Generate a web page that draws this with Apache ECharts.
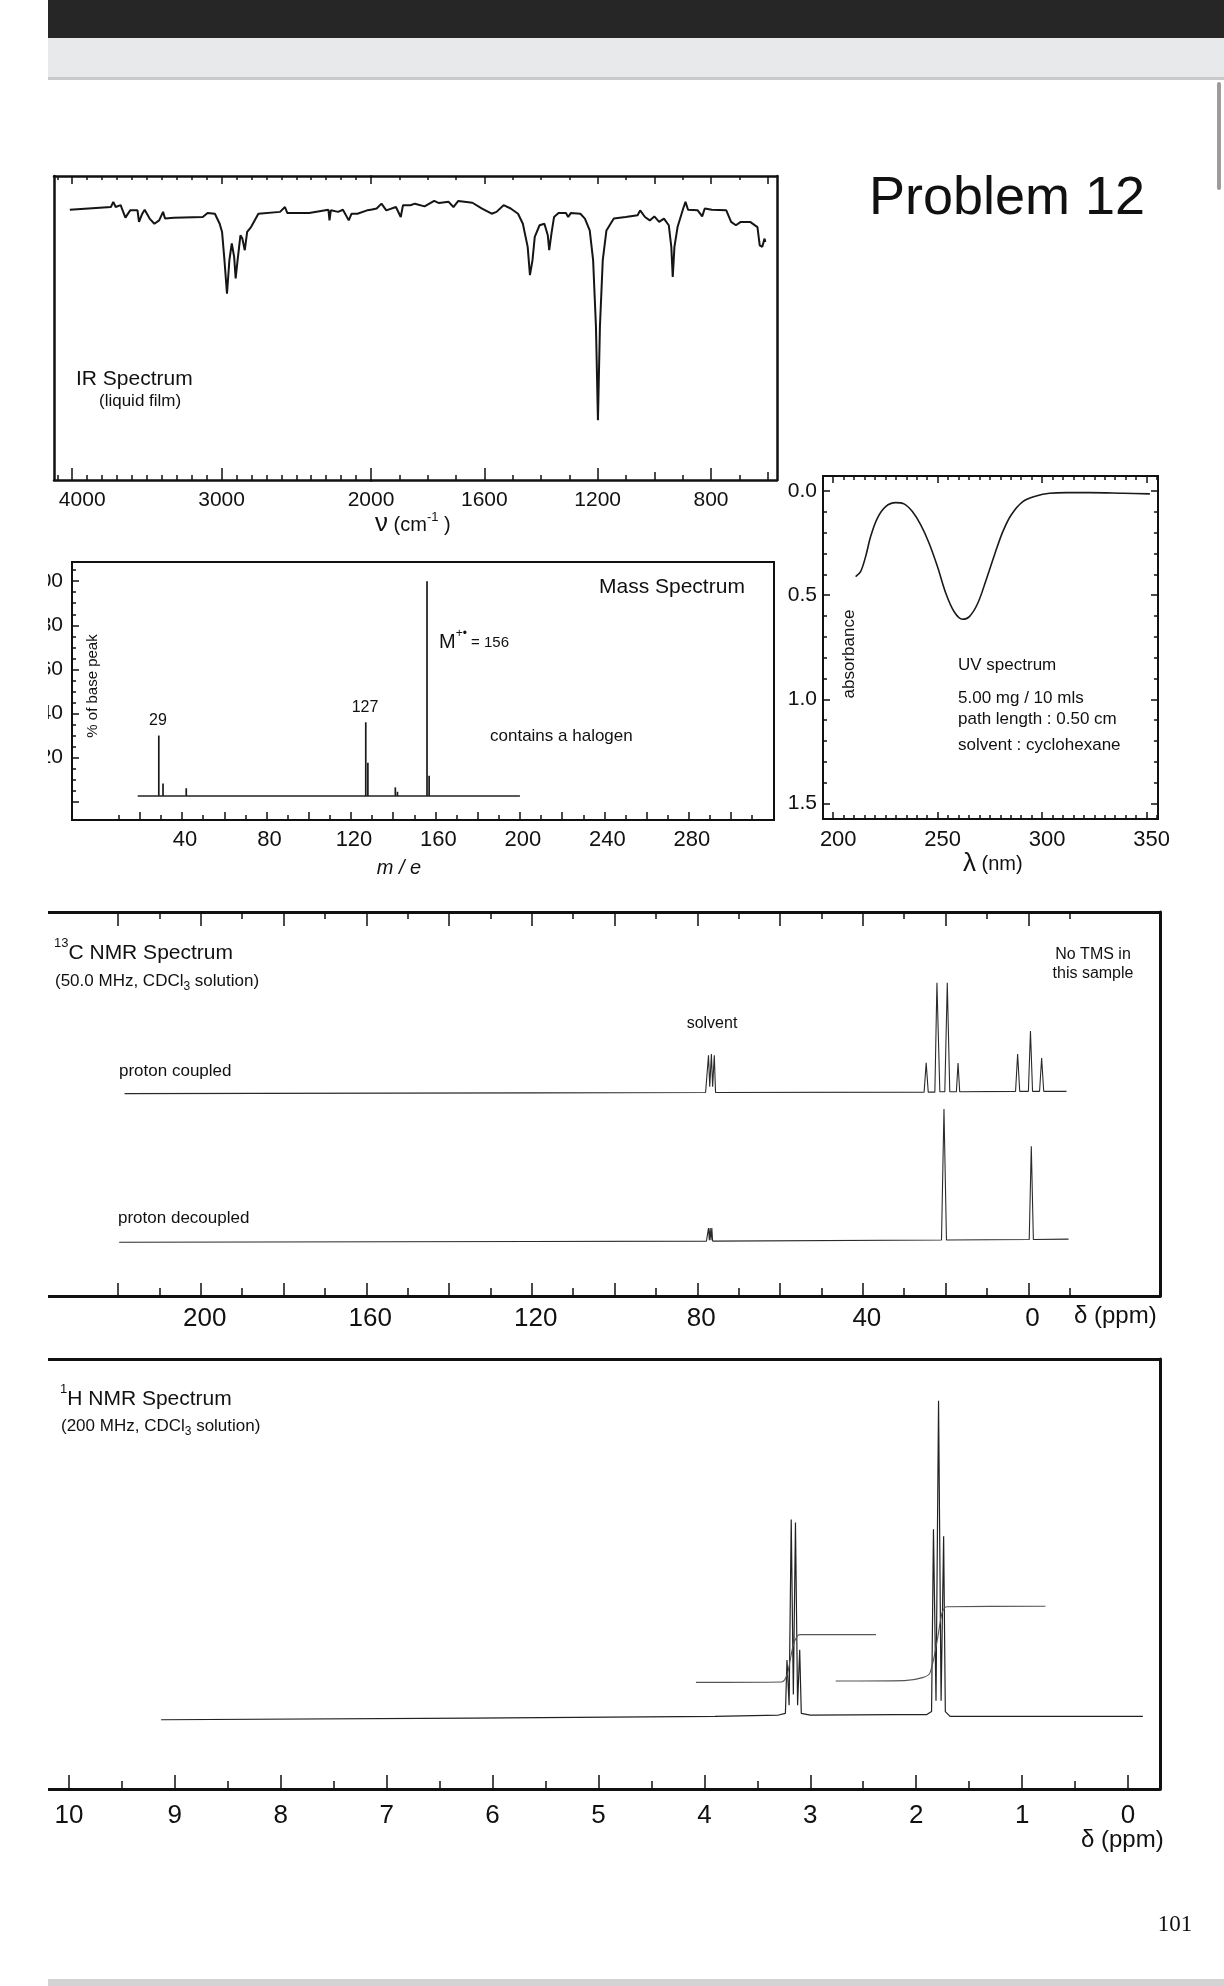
<!DOCTYPE html>
<html>
<head>
<meta charset="utf-8">
<script src="https://cdn.jsdelivr.net/npm/echarts@6.0.0/dist/echarts.min.js"></script>
<style>
html,body{margin:0;padding:0;background:#fff;}
#c{width:1224px;height:1986px;}
</style>
</head>
<body>
<div id="c"></div>
<script>
// ---------------- DATA ----------------
// IR spectrum (liquid film): wavenumber (cm-1) and % transmittance
const irWavenumber = [4016,3741,3725,3709,3676,3644,3612,3563,3553,3531,3515,3482,3450,3418,3392,3379,3320,3126,3094,3045,3013,2997,2981,2964,2948,2932,2916,2906,2893,2874,2861,2845,2829,2803,2754,2609,2576,2560,2414,2285,2278,2269,2220,2188,2149,2130,2091,2026,2000,1980,1963,1946,1912,1895,1887,1861,1845,1811,1777,1760,1726,1709,1692,1642,1608,1574,1557,1532,1507,1481,1464,1447,1439,1430,1422,1405,1388,1376,1371,1363,1354,1338,1312,1304,1295,1261,1245,1228,1216,1206,1199,1192,1182,1169,1143,1101,1059,1050,1033,1016,1000,983,966,949,940,935,929,918,898,890,881,847,831,822,797,746,729,712,695,662,636,628,619,611,608];
const irTransmittance = [88.9,89.8,91.5,89.8,90.4,86.3,88.7,88.7,84.9,87.6,88.9,86.0,84.3,85.4,88.2,86.0,86.3,86.5,87.8,87.6,84.3,81.6,72.3,61.3,72.3,77.8,73.4,66.3,72.3,80.5,79.4,75.6,81.6,83.2,87.6,88.2,89.8,87.8,87.8,88.9,85.4,88.7,88.2,88.9,85.4,87.6,87.6,88.7,88.9,89.3,90.9,88.7,89.8,86.5,90.4,90.4,90.9,90.0,91.8,91.1,91.5,89.8,91.8,91.2,89.3,87.6,88.2,90.4,89.3,87.6,84.3,76.7,67.4,72.3,80.0,83.8,84.3,80.5,75.6,81.1,86.5,87.8,87.8,86.5,87.8,87.6,86.0,82.1,72.3,50.4,19.7,50.4,72.3,82.1,86.0,86.5,87.1,88.7,86.5,85.4,86.7,84.9,86.0,83.8,76.7,66.8,76.7,83.2,89.3,91.5,88.9,88.7,86.7,89.3,88.9,88.7,84.9,83.8,84.9,84.9,83.2,77.2,76.7,79.4,78.3];
const irTickLabelsLeft = [4000, 3000, 2000];
const irTickLabelsRight = [1600, 1200, 800];
const irMediumTicksRight = [1000, 600];

// Mass spectrum: m/e and % of base peak
const msMass = [29, 31, 42, 127, 128, 141, 142, 156, 157];
const msIntensity = [30, 8.2, 6.1, 36, 17.7, 6.5, 4.5, 100, 11.8];
const msBaseline = 2.6;
const msBaseRange = [19, 200];
const msXLabels = [40, 80, 120, 160, 200, 240, 280];
const msYLabels = [20, 40, 60, 80, 100];

// UV spectrum: wavelength (nm) and absorbance
const uvWavelength = [210.7,213.1,215.5,217.9,221.1,225.1,229.9,233.9,237.9,241.9,245.9,249.9,253.9,257.9,261.9,265.2,269.2,273.2,277.2,281.2,285.2,290.8,297.2,303.6,311.6,322.8,338.8,351.6];
const uvAbsorbance = [0.411,0.387,0.315,0.219,0.131,0.075,0.056,0.062,0.099,0.163,0.251,0.363,0.491,0.580,0.616,0.603,0.539,0.427,0.307,0.195,0.115,0.051,0.024,0.011,0.008,0.008,0.011,0.014];
const uvXLabels = [200, 250, 300, 350];
const uvYLabels = [0, 0.5, 1.0, 1.5];

// 13C NMR (traces are offset on the page; intensity in page units)
const c13CoupledPpm = [218.4,120,78.0,77.6,77.3,77.0,76.6,76.3,75.9,75.6,25.2,24.7,24.2,22.6,22.1,21.4,20.2,19.6,19.0,17.4,17.0,16.6,3.1,2.6,2.1,0.0,-0.5,-1.0,-2.7,-3.2,-3.7,-9.2];
const c13CoupledInt = [52.7,52.9,53.0,53.0,62.7,54.5,63.0,54.5,62.7,53.0,53.1,60.7,53.1,53.1,81.6,53.2,53.2,81.6,53.2,53.2,60.7,53.2,53.3,63.0,53.3,53.3,69.0,53.3,53.3,62.0,53.3,53.3];
const c13DecoupledPpm = [219.7,120,77.8,77.5,77.3,77.1,76.9,76.7,76.5,76.3,21.0,20.4,19.8,-0.2,-0.7,-1.2,-9.7];
const c13DecoupledInt = [14.0,14.2,14.3,14.3,17.7,14.5,17.7,14.5,17.7,14.3,14.6,48.7,14.6,14.7,39.0,14.7,14.8];
const c13Labels = [200, 160, 120, 80, 40, 0];

// 1H NMR trace and integral curves
const h1Ppm = [9.13,6.2,3.9,3.30,3.235,3.22,3.20,3.18,3.16,3.14,3.12,3.10,3.085,3.0,2.2,1.90,1.855,1.837,1.813,1.789,1.765,1.741,1.725,1.68,1.0,-0.14];
const h1Int = [16.1,16.5,16.9,17.2,17.6,30.0,19.5,62.7,22.0,62.0,19.5,32.4,17.6,17.2,17.3,17.3,18.0,60.4,20.5,90.3,20.5,58.8,18.0,16.9,16.9,16.9];
const h1Int1Ppm = [4.08,3.27,3.22,3.19,3.16,3.13,3.10,2.38];
const h1Int1Val = [24.8,24.9,26.5,30.0,33.5,35.3,35.9,35.9];
const h1Int2Ppm = [2.76,2.11,1.94,1.87,1.80,1.755,1.71,0.78];
const h1Int2Val = [25.1,25.2,25.9,27.0,34.8,41.0,42.4,42.5];
const h1Labels = [10, 9, 8, 7, 6, 5, 4, 3, 2, 1, 0];

// ---------------- helpers ----------------
const INK = '#111';
const FONT = '"Liberation Sans", Arial, Helvetica, sans-serif';
function range(a, b, s) { const r = []; for (let i = 0; a + i * s <= b + 1e-9; i++) r.push(+(a + i * s).toFixed(4)); return r; }
function pairs(xs, ys) { return xs.map((x, i) => [x, ys[i]]); }

function axis(o) {
  let label = {show: false};
  if (o.labels) {
    const fmt = o.fmt || (v => String(v));
    label = {show: true, inside: false, customValues: o.labels, fontSize: o.fs, fontFamily: FONT, color: INK, margin: o.m};
    if (o.pad || o.padFirst) {
      label.formatter = v => ((o.padFirst && v === o.padFirst[0]) ? '{f|' : '{p|') + fmt(v) + '}';
      label.rich = {
        p: {fontSize: o.fs, fontFamily: FONT, color: INK, padding: [0, 0, 0, o.pad || 0]},
        f: {fontSize: o.fs, fontFamily: FONT, color: INK, padding: [0, 0, 0, o.padFirst ? o.padFirst[1] : 0]}
      };
    } else {
      label.formatter = fmt;
    }
  }
  return {
    type: 'value', gridIndex: o.g, position: o.p, min: o.min, max: o.max, inverse: !!o.inv,
    splitLine: {show: false}, splitArea: {show: false}, axisPointer: {show: false},
    axisLine: {show: !!o.line, onZero: false, lineStyle: {color: INK, width: o.lw || 2}},
    axisTick: o.ticks ? {show: true, inside: true, length: o.len, customValues: o.ticks, lineStyle: {color: INK, width: o.tw || 1.5}} : {show: false},
    axisLabel: label,
    minorTick: {show: false}, silent: true
  };
}

const mctx = document.createElement('canvas').getContext('2d');
function fontStr(size, style, family) { return (style || 'normal') + ' normal ' + size + 'px ' + (family || FONT); }
function txt(x, y, text, size, opt) {
  opt = opt || {};
  const al = opt.align || 'left';
  return {type: 'text', x: x, y: y, rotation: opt.rot || 0, z: 50, silent: true,
    style: {text: text, font: fontStr(size, opt.style, opt.family), fill: INK,
      align: al, textAlign: al, verticalAlign: 'middle', textVerticalAlign: 'middle'}};
}
function seq(x, y, parts) {
  const out = []; let cx = x;
  parts.forEach(p => {
    out.push(txt(cx, y + (p[2] || 0), p[0], p[1], {style: p[3]}));
    mctx.font = fontStr(p[1], p[3]);
    cx += mctx.measureText(p[0]).width;
  });
  return out;
}

// ---------------- layout ----------------
const irLeftData = pairs(irWavenumber, irTransmittance).filter(d => d[0] >= 2000);
const irRightData = pairs(irWavenumber, irTransmittance).filter(d => d[0] <= 2000);

const grids = [
  {left: 54, top: 176, width: 317, height: 304},   // 0 IR left (4122-2000)
  {left: 371, top: 176, width: 406, height: 304},  // 1 IR right (2000-567)
  {left: 72, top: 562, width: 702, height: 258, show: true, borderColor: INK, borderWidth: 2}, // 2 MS
  {left: 823, top: 476, width: 335, height: 343, show: true, borderColor: INK, borderWidth: 2}, // 3 UV
  {left: 0, top: 912, width: 1160, height: 384},   // 4 13C
  {left: 0, top: 1359, width: 1160, height: 430}   // 5 1H
].map(g => Object.assign({containLabel: false, outerBoundsMode: 'none', backgroundColor: 'transparent', borderColor: 'transparent'}, g));

const IRL = {min: 2000, max: 4122, inv: true};
const IRR = {min: 567, max: 2000, inv: true};
const MSX = {min: -12.1, max: 320.3};
const UVX = {min: 195.1, max: 355.5};
const C13 = {min: -31.8, max: 248.5, inv: true};
const H1 = {min: -0.302, max: 10.651, inv: true};

const xAxes = [
  axis(Object.assign({g: 0, p: 'bottom', line: true, lw: 2.5, ticks: irTickLabelsLeft, len: 12, labels: irTickLabelsLeft, fs: 21, m: 10, padFirst: [4000, 20]}, IRL)), //0
  axis(Object.assign({g: 0, p: 'bottom', ticks: range(2100, 4100, 100), len: 5}, IRL)), //1
  axis(Object.assign({g: 0, p: 'top', line: true, lw: 2.5, ticks: irTickLabelsLeft, len: 8}, IRL)), //2
  axis(Object.assign({g: 0, p: 'top', ticks: range(2100, 4100, 100), len: 4}, IRL)), //3
  axis(Object.assign({g: 1, p: 'bottom', line: true, lw: 2.5, ticks: irTickLabelsRight, len: 12, labels: irTickLabelsRight, fs: 21, m: 10}, IRR)), //4
  axis(Object.assign({g: 1, p: 'bottom', ticks: irMediumTicksRight, len: 8}, IRR)), //5
  axis(Object.assign({g: 1, p: 'bottom', ticks: range(700, 1900, 100), len: 5}, IRR)), //6
  axis(Object.assign({g: 1, p: 'top', line: true, lw: 2.5, ticks: irTickLabelsRight.concat(irMediumTicksRight), len: 8}, IRR)), //7
  axis(Object.assign({g: 1, p: 'top', ticks: range(700, 1900, 100), len: 4}, IRR)), //8
  axis(Object.assign({g: 2, p: 'bottom', ticks: range(20, 300, 20), len: 8, labels: msXLabels, fs: 22, m: 9, pad: 6}, MSX)), //9
  axis(Object.assign({g: 2, p: 'bottom', ticks: range(10, 310, 20), len: 5}, MSX)), //10
  axis(Object.assign({g: 3, p: 'bottom', ticks: uvXLabels, len: 7, labels: uvXLabels, fs: 22, m: 10, pad: 10}, UVX)), //11
  axis(Object.assign({g: 3, p: 'bottom', ticks: range(200, 355, 5), len: 4}, UVX)), //12
  axis(Object.assign({g: 3, p: 'top', ticks: uvXLabels, len: 7}, UVX)), //13
  axis(Object.assign({g: 3, p: 'top', ticks: range(200, 355, 5), len: 4}, UVX)), //14
  axis(Object.assign({g: 4, p: 'bottom', line: true, lw: 3, ticks: range(0, 220, 20), len: 13, labels: c13Labels, fs: 26, m: 10, pad: 8}, C13)), //15
  axis(Object.assign({g: 4, p: 'bottom', ticks: range(-10, 210, 20), len: 8}, C13)), //16
  axis(Object.assign({g: 4, p: 'top', line: true, lw: 3, ticks: range(0, 220, 20), len: 14}, C13)), //17
  axis(Object.assign({g: 4, p: 'top', ticks: range(-10, 210, 20), len: 7}, C13)), //18
  axis(Object.assign({g: 5, p: 'bottom', line: true, lw: 3, ticks: h1Labels, len: 14, labels: h1Labels, fs: 26, m: 14}, H1)), //19
  axis(Object.assign({g: 5, p: 'bottom', ticks: range(0.5, 9.5, 1), len: 8}, H1)), //20
  axis(Object.assign({g: 5, p: 'top', line: true, lw: 3}, H1)) //21
];

const yAxes = [
  axis({g: 0, p: 'left', min: 0, max: 100, line: true, lw: 2.5}), //0
  axis({g: 1, p: 'right', min: 0, max: 100, line: true, lw: 2.5}), //1
  axis({g: 2, p: 'left', min: -8.3, max: 108.7, ticks: range(0, 100, 20), len: 7, labels: msYLabels, fs: 21, m: 9}), //2
  axis({g: 2, p: 'left', min: -8.3, max: 108.7, ticks: range(5, 105, 5), len: 4}), //3
  axis({g: 3, p: 'left', min: -0.072, max: 1.575, inv: true, ticks: uvYLabels, len: 7, labels: uvYLabels, fs: 21, m: 6, fmt: v => Number(v).toFixed(1)}), //4
  axis({g: 3, p: 'left', min: -0.072, max: 1.575, inv: true, ticks: range(0, 1.5, 0.1), len: 4}), //5
  axis({g: 3, p: 'right', min: -0.072, max: 1.575, inv: true, ticks: uvYLabels, len: 7}), //6
  axis({g: 3, p: 'right', min: -0.072, max: 1.575, inv: true, ticks: range(0, 1.5, 0.1), len: 4}), //7
  axis({g: 4, p: 'right', min: 0, max: 100, line: true, lw: 3}), //8
  axis({g: 5, p: 'right', min: 0, max: 100, line: true, lw: 3}) //9
];

function lineSeries(xi, yi, data, color, width, extra) {
  return Object.assign({type: 'line', xAxisIndex: xi, yAxisIndex: yi, data: data, symbol: 'none', silent: true,
    animation: false, lineStyle: {color: color, width: width}, z: 3}, extra || {});
}

const series = [
  lineSeries(0, 0, irLeftData, '#151515', 2),
  lineSeries(4, 1, irRightData, '#151515', 2),
  lineSeries(9, 2, [[msBaseRange[0], msBaseline], [msBaseRange[1], msBaseline]], '#222', 1.6),
  {type: 'custom', xAxisIndex: 9, yAxisIndex: 2, silent: true, animation: false, z: 3,
    data: pairs(msMass, msIntensity), encode: {x: 0, y: 1},
    renderItem: function (params, api) {
      const a = api.coord([api.value(0), msBaseline]);
      const b = api.coord([api.value(0), api.value(1)]);
      return {type: 'line', shape: {x1: a[0], y1: a[1], x2: b[0], y2: b[1]}, style: {stroke: '#1a1a1a', lineWidth: 1.7}};
    }},
  lineSeries(11, 4, pairs(uvWavelength, uvAbsorbance), '#1a1a1a', 1.6, {smooth: 0.35}),
  lineSeries(15, 8, pairs(c13CoupledPpm, c13CoupledInt), '#2a2a2a', 1.1),
  lineSeries(15, 8, pairs(c13DecoupledPpm, c13DecoupledInt), '#2a2a2a', 1.1),
  lineSeries(19, 9, pairs(h1Ppm, h1Int), '#222', 1.2),
  lineSeries(19, 9, pairs(h1Int1Ppm, h1Int1Val), '#555', 1.1, {smooth: 0.3}),
  lineSeries(19, 9, pairs(h1Int2Ppm, h1Int2Val), '#555', 1.1, {smooth: 0.3})
];

const chrome = [
  {type: 'rect', z: 100, silent: true, shape: {x: 48, y: 0, width: 1176, height: 38}, style: {fill: '#262626'}},
  {type: 'rect', z: 100, silent: true, shape: {x: 48, y: 38, width: 1176, height: 40}, style: {fill: '#e8e9eb'}},
  {type: 'rect', z: 100, silent: true, shape: {x: 48, y: 77, width: 1176, height: 3}, style: {fill: '#c9c9c9'}},
  {type: 'rect', z: 100, silent: true, shape: {x: 1217, y: 82, width: 4, height: 108, r: 2}, style: {fill: '#9c9c9c'}},
  {type: 'rect', z: 100, silent: true, shape: {x: 48, y: 1979, width: 1176, height: 7}, style: {fill: '#d3d3d3'}},
  {type: 'rect', z: 100, silent: true, shape: {x: 0, y: 0, width: 48, height: 1986}, style: {fill: '#ffffff'}}
];

const texts = [].concat(
  [txt(869, 199, 'Problem 12', 54)],
  [txt(76, 379, 'IR Spectrum', 21), txt(99, 401, '(liquid film)', 17)],
  seq(375, 525, [['ν', 26, -1], [' (cm', 20, 0], ['-1', 13, -8], [' )', 20, 0]]),
  [txt(599, 587, 'Mass Spectrum', 21)],
  seq(439, 642, [['M', 20, 0], ['+•', 12, -8], [' = 156', 15, 1]]),
  [txt(490, 736, 'contains a halogen', 17),
   txt(158, 721, '29', 16, {align: 'center'}),
   txt(365, 708, '127', 16, {align: 'center'}),
   txt(93, 686, '% of base peak', 15, {align: 'center', rot: Math.PI / 2}),
   txt(399, 868, 'm / e', 20, {align: 'center', style: 'italic'})],
  [txt(958, 665, 'UV spectrum', 17), txt(958, 698, '5.00 mg / 10 mls', 17),
   txt(958, 719, 'path length : 0.50 cm', 17), txt(958, 745, 'solvent : cyclohexane', 17),
   txt(849, 654, 'absorbance', 17, {align: 'center', rot: Math.PI / 2})],
  seq(963, 864, [['λ', 26, 0], [' (nm)', 20, 0]]),
  seq(54, 953, [['13', 13, -10], ['C NMR Spectrum', 21, 0]]),
  seq(55, 981, [['(50.0 MHz, CDCl', 17, 0], ['3', 12, 6], [' solution)', 17, 0]]),
  [txt(1093, 955, 'No TMS in', 16, {align: 'center'}), txt(1093, 974, 'this sample', 16, {align: 'center'}),
   txt(712, 1024, 'solvent', 16, {align: 'center'}),
   txt(119, 1071, 'proton coupled', 17), txt(118, 1218, 'proton decoupled', 17)],
  seq(1074, 1316, [['δ', 24, 0], [' (ppm)', 24, 0]]),
  seq(60, 1399, [['1', 13, -10], ['H NMR Spectrum', 21, 0]]),
  seq(61, 1426, [['(200 MHz, CDCl', 17, 0], ['3', 12, 6], [' solution)', 17, 0]]),
  seq(1081, 1840, [['δ', 24, 0], [' (ppm)', 24, 0]]),
  [txt(1175, 1925, '101', 23, {align: 'center', family: '"Liberation Serif", "Times New Roman", serif'})]
);

const chart = echarts.init(document.getElementById('c'), null, {renderer: 'canvas', width: 1224, height: 1986});
chart.setOption({
  backgroundColor: '#ffffff',
  animation: false,
  textStyle: {fontFamily: FONT, color: INK},
  grid: grids,
  xAxis: xAxes,
  yAxis: yAxes,
  series: series,
  graphic: {elements: chrome.concat(texts)}
});
</script>
</body>
</html>
